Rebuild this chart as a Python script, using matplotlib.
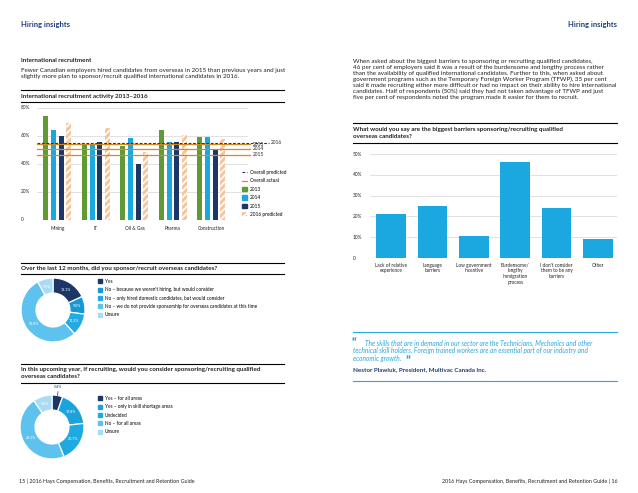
import numpy as np
import matplotlib
matplotlib.use("Agg")
import matplotlib.pyplot as plt
import matplotlib.patches as mpatches
from matplotlib.lines import Line2D

plt.rcParams["font.family"] = ["Lato", "DejaVu Sans"]
plt.rcParams["hatch.linewidth"] = 1.2

W, H = 638, 493

NAVY = "#1c3767"
GREEN = "#5f9a35"
CYAN = "#1ba8e0"
PEACH = "#f7c59a"
GOLD = "#d38b22"
QUOTE = "#2aa7dc"
GRID = "#d4d4d4"
TXT = "#222222"

# --- data: international recruitment activity (left bar chart)
sectors = ["Mining", "IT", "Oil & Gas", "Pharma", "Construction"]
act_2013 = [74.5, 54, 53, 64.5, 59]
act_2014 = [64, 54, 58.5, 56, 59]
act_2015 = [60, 56, 40, 56, 50]
pred_2016 = [69.5, 65.5, 48.5, 60.5, 58]
overall_years = ["2013", "2014", "2015"]
overall_actual = [54, 51, 46.5]
overall_pred_2016 = 55
left_ticks = [0, 20, 40, 60, 80]
left_ticklabels = ["0", "20%", "40%", "60%", "80%"]

# --- data: sponsor last 12 months (donut 1)
sponsor_labels = ["Yes",
                  "No \u2013 because we weren't hiring, but would consider",
                  "No \u2013 only hired domestic candidates, but would consider",
                  "No \u2013 we do not provide sponsorship for overseas candidates at this time",
                  "Unsure"]
sponsor_vals = [18.1, 9.0, 11.2, 53.8, 7.9]

# --- data: upcoming year (donut 2)
upcoming_labels = ["Yes \u2013 for all areas",
                   "Yes \u2013 only in skill shortage areas",
                   "Undecided",
                   "No \u2013 for all areas",
                   "Unsure"]
upcoming_vals = [5.4, 17.8, 20.7, 46.5, 9.6]

donut1_colors = [NAVY, "#1598d4", "#22aae2", "#5ec2ef", "#a9dcf4"]
donut2_colors = [NAVY, "#1ba3de", "#1fa9e1", "#5ec2ef", "#a9dcf4"]

# --- data: barriers (right bar chart)
barriers = ["Lack of relative\nexperience", "Language\nbarriers", "Low government\nincentive",
            "Burdensome/\nlengthy\nimmigration\nprocess", "I don't consider\nthem to be any\nbarriers",
            "Other"]
barrier_vals = [21, 25, 10.5, 46, 24, 9]
right_ticks = [0, 10, 20, 30, 40, 50]
right_ticklabels = ["0", "10%", "20%", "30%", "40%", "50%"]

fig = plt.figure(figsize=(W / 100, H / 100), dpi=100)


def px_axes(x, y, w, h):
    return fig.add_axes([x / W, 1 - (y + h) / H, w / W, h / H])


def px_text(x, y, s, **kw):
    kw.setdefault("va", "center")
    kw.setdefault("color", TXT)
    fig.text(x / W, 1 - y / H, s, **kw)


def px_hline(y, x0, x1, color="black", lw=0.8):
    fig.add_artist(Line2D([x0 / W, x1 / W], [1 - y / H] * 2, color=color, lw=lw))


BODY = 4.5
SMALL = 3.4

# ================= LEFT PAGE =================
px_text(21, 24, "Hiring insights", fontsize=5.5, fontweight="bold", color="#1f3f7a")
px_text(21, 61, "International recruitment", fontsize=BODY, fontweight="bold")
px_text(21, 70.5, "Fewer Canadian employers hired candidates from overseas in 2015 than previous years and just",
        fontsize=BODY)
px_text(21, 76.7, "slightly more plan to sponsor/recruit qualified international candidates in 2016.",
        fontsize=BODY)
px_hline(90, 21, 284)
px_text(21, 96.5, "International recruitment activity 2013\u20132016", fontsize=BODY, fontweight="bold")
px_hline(101.8, 21, 284)

ax = px_axes(37, 108, 211, 112)
x = np.arange(len(sectors))
bw = 0.13
ax.bar(x - 0.3, act_2013, bw, color=GREEN, zorder=3, label="2013")
ax.bar(x - 0.1, act_2014, bw, color=CYAN, zorder=3, label="2014")
ax.bar(x + 0.1, act_2015, bw, color=NAVY, zorder=3, label="2015")
ax.bar(x + 0.3, pred_2016, bw, color=PEACH, edgecolor="white", hatch="/////", lw=0, zorder=3,
       label="2016 predicted")
x0, x1 = -0.53, 4.95
for yr, v in zip(overall_years, overall_actual):
    ax.plot([x0, 5.0], [v, v], color=GOLD, lw=0.9, zorder=4, clip_on=False)
    ax.text(5.07, v, yr, fontsize=SMALL, va="center", ha="left", color=TXT)
ax.plot([x0, 5.49], [overall_pred_2016] * 2, color=NAVY, lw=0.8, ls=(0, (2.5, 1.5)), zorder=5,
        clip_on=False)
ax.text(5.55, overall_pred_2016, "2016", fontsize=SMALL, va="center", ha="left", color=TXT)
ax.set_xlim(x0, x1)
ax.set_ylim(0, 80)
ax.set_yticks(left_ticks)
ax.yaxis.grid(True, color=GRID, lw=0.5, zorder=0)
ax.tick_params(axis="y", length=0, labelleft=False)
for t, lab in zip(left_ticks, left_ticklabels):
    ax.text(-16 / 211, t, lab, transform=ax.get_yaxis_transform(), fontsize=SMALL, va="center",
            ha="left", color=TXT)
ax.set_xticks(x)
ax.set_xticklabels(sectors, fontsize=SMALL, color=TXT)
ax.tick_params(axis="x", length=0, pad=4)
for s in ax.spines.values():
    s.set_visible(False)

handles = [Line2D([], [], color=NAVY, lw=0.8, ls=(0, (2.5, 1.5)), label="Overall predicted"),
           Line2D([], [], color=GOLD, lw=0.9, label="Overall actual"),
           mpatches.Patch(color=GREEN, label="2013"),
           mpatches.Patch(color=CYAN, label="2014"),
           mpatches.Patch(color=NAVY, label="2015"),
           mpatches.Patch(facecolor=PEACH, edgecolor="white", hatch="/////", lw=0, label="2016 predicted")]
fig.legend(handles=handles, loc="upper left", bbox_to_anchor=(242 / W, 1 - 170 / H), frameon=False,
           fontsize=SMALL, handlelength=1.1, handleheight=1.0, labelspacing=0.72, handletextpad=0.5,
           borderpad=0, borderaxespad=0)

# ---- donut 1
px_hline(263, 21, 284)
px_text(21, 268.7, "Over the last 12 months, did you sponsor/recruit overseas candidates?", fontsize=BODY,
        fontweight="bold")
px_hline(274, 21, 284)

dax = px_axes(21, 278, 64, 64)
dax.pie(sponsor_vals, colors=donut1_colors, startangle=90, counterclock=False, radius=1,
        wedgeprops=dict(width=0.47, edgecolor="white", lw=0.9),
        autopct=lambda p: f"{p:.1f}%", pctdistance=0.75,
        textprops=dict(color="white", fontsize=2.7))
dax.set_xlim(-1, 1)
dax.set_ylim(-1, 1)
dax.set_aspect("equal")
dax.axis("off")

h1 = [mpatches.Patch(color=c, label=l) for c, l in zip(donut1_colors, sponsor_labels)]
fig.legend(handles=h1, loc="upper left", bbox_to_anchor=(98 / W, 1 - 279 / H), frameon=False,
           fontsize=SMALL, handlelength=0.9, handleheight=0.9, labelspacing=0.7, handletextpad=0.6,
           borderpad=0, borderaxespad=0)

# ---- donut 2
px_hline(364, 21, 284)
px_text(21, 370, "In this upcoming year, if recruiting, would you consider sponsoring/recruiting qualified",
        fontsize=BODY, fontweight="bold")
px_text(21, 377, "overseas candidates?", fontsize=BODY, fontweight="bold")
px_hline(383, 21, 284)

dax2 = px_axes(20, 395, 64, 64)
dax2.pie(upcoming_vals, colors=donut2_colors, startangle=90, counterclock=False, radius=1,
         wedgeprops=dict(width=0.47, edgecolor="white", lw=0.9),
         autopct=lambda p: f"{p:.1f}%" if p > 6 else "", pctdistance=0.75,
         textprops=dict(color="white", fontsize=2.7))
ang = np.deg2rad(90 - upcoming_vals[0] / 100 * 360 / 2)
dax2.plot([np.cos(ang), 1.12 * np.cos(ang)], [np.sin(ang), 1.12 * np.sin(ang)], color=NAVY, lw=0.5,
          clip_on=False)
dax2.text(1.2 * np.cos(ang) - 0.02, 1.2 * np.sin(ang), f"{upcoming_vals[0]:.1f}%", fontsize=2.7,
          color=NAVY, ha="center", va="bottom", clip_on=False)
dax2.set_xlim(-1, 1)
dax2.set_ylim(-1, 1)
dax2.set_aspect("equal")
dax2.axis("off")

h2 = [mpatches.Patch(color=c, label=l) for c, l in zip(donut2_colors, upcoming_labels)]
fig.legend(handles=h2, loc="upper left", bbox_to_anchor=(98 / W, 1 - 396 / H), frameon=False,
           fontsize=SMALL, handlelength=0.9, handleheight=0.9, labelspacing=0.7, handletextpad=0.6,
           borderpad=0, borderaxespad=0)

px_text(19, 481, "15 | 2016 Hays Compensation, Benefits, Recruitment and Retention Guide", fontsize=3.9)

# ================= RIGHT PAGE =================
px_text(617, 24, "Hiring insights", fontsize=5.5, fontweight="bold", color="#1f3f7a", ha="right")
para = ["When asked about the biggest barriers to sponsoring or recruiting qualified candidates,",
        "46 per cent of employers said it was a result of the burdensome and lengthy process rather",
        "than the availability of qualified international candidates. Further to this, when asked about",
        "government programs such as the Temporary Foreign Worker Program (TFWP), 35 per cent",
        "said it made recruiting either more difficult or had no impact on their ability to hire international",
        "candidates. Half of respondents (50%) said they had not taken advantage of TFWP and just",
        "five per cent of respondents noted the program made it easier for them to recruit."]
for i, line in enumerate(para):
    px_text(353, 61 + i * 6.05, line, fontsize=BODY)

px_hline(123, 353, 617)
px_text(353, 129.5, "What would you say are the biggest barriers sponsoring/recruiting qualified",
        fontsize=BODY, fontweight="bold")
px_text(353, 136.7, "overseas candidates?", fontsize=BODY, fontweight="bold")
px_hline(142.5, 353, 617)

rax = px_axes(370, 154, 247, 104)
rx = np.arange(len(barriers))
rax.bar(rx, barrier_vals, 0.72, color=CYAN, zorder=3)
rax.set_xlim(-0.51, 5.46)
rax.set_ylim(0, 50)
rax.set_yticks(right_ticks)
rax.yaxis.grid(True, color=GRID, lw=0.5, zorder=0)
rax.tick_params(axis="y", length=0, labelleft=False)
for t, lab in zip(right_ticks, right_ticklabels):
    rax.text(-17 / 247, t, lab, transform=rax.get_yaxis_transform(), fontsize=SMALL, va="center",
             ha="left", color=TXT)
rax.set_xticks(rx)
rax.set_xticklabels(barriers, fontsize=SMALL, color=TXT, linespacing=1.15, va="top")
rax.tick_params(axis="x", length=0, pad=3.5)
for s in rax.spines.values():
    s.set_visible(False)

# ---- quote
QSIZE = 4.7
px_hline(332, 353, 617, color=QUOTE, lw=0.8)
px_text(352, 336.2, "\u201c", fontsize=8.5, fontweight="heavy", color=QUOTE, va="top")
px_text(365, 343, "The skills that are in demand in our sector are the Technicians, Mechanics and other",
        fontsize=QSIZE, style="italic", color=QUOTE)
px_text(353, 351, "technical skill holders. Foreign trained workers are an essential part of our industry and",
        fontsize=QSIZE, style="italic", color=QUOTE)
px_text(353, 359, "economic growth.", fontsize=QSIZE, style="italic", color=QUOTE)
px_text(406, 355.2, "\u201d", fontsize=8.5, fontweight="heavy", color=QUOTE, va="top")
px_text(353, 370, "Nestor Plawiuk, President, Multivac Canada Inc.", fontsize=BODY, fontweight="bold",
        color="#1f3f7a")
px_hline(381, 353, 617, color=QUOTE, lw=0.8)

px_text(618, 481, "2016 Hays Compensation, Benefits, Recruitment and Retention Guide | 16", fontsize=3.9,
        ha="right")

fig.savefig("out.png", dpi=100)
